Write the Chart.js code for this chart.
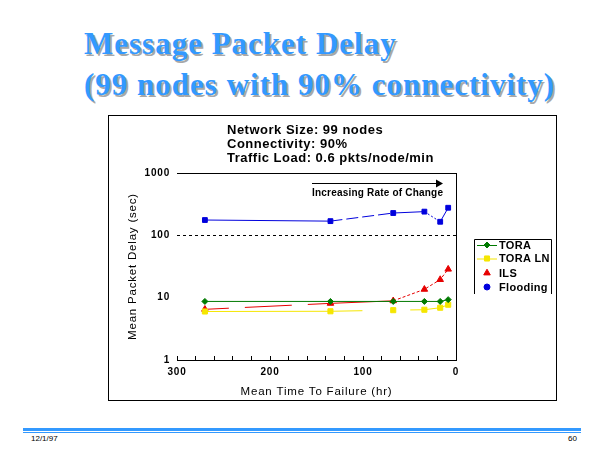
<!DOCTYPE html>
<html>
<head>
<meta charset="utf-8">
<script src="https://cdn.jsdelivr.net/npm/chart.js@4.4.1/dist/chart.umd.min.js"></script>
<style>
    html, body { margin: 0; padding: 0; background: #fff; }
    #page { position: relative; width: 600px; height: 450px; overflow: hidden; }
    .title {
        position: absolute; left: 84px; white-space: nowrap; line-height: 1;
        font: bold 31px "Liberation Serif", "Times New Roman", serif;
        letter-spacing: 1px; color: #3399ff; text-shadow: 2px 2px 0 #a8a8a8;
    }
    #box { position: absolute; left: 108px; top: 115px; width: 447px; height: 284px; border: 1px solid #000; }
    #chart { position: absolute; left: 0; top: 0; }
    .bar { position: absolute; left: 23px; width: 558px; background: #3399ff; }
    .foot { position: absolute; top: 434px; font: 8px "Liberation Sans", Arial, sans-serif; color: #000; }
</style>
</head>
<body>
<div id="page">
    <div class="title" style="top:26px">Message Packet Delay</div>
    <div class="title" style="top:67px">(99 nodes with 90% connectivity)</div>
    <div id="box"></div>
    <div class="bar" style="top:428px;height:3px"></div>
    <div class="bar" style="top:432px;height:1px"></div>
    <div class="foot" style="left:31px">12/1/97</div>
    <div class="foot" style="left:568px">60</div>
    <canvas id="chart" width="600" height="450"></canvas>
</div>
<script>
const mttf = [270, 135, 67.5, 34, 17, 8.4];
const toraDelay = [8.7, 8.7, 8.7, 8.7, 8.7, 9.3];
const toraLnDelay = [6.0, 6.05, 6.3, 6.4, 6.9, 7.7];
const ilsDelay = [6.5, 8.1, 8.9, 13.6, 19.5, 28.6];
const floodingDelay = [176, 169, 228, 240, 165, 277];
const seriesNames = ['TORA', 'TORA LN', 'ILS', 'Flooding'];
const xTickLabels = [300, 200, 100, 0];
const yTickValues = [1, 10, 100, 1000];
const noteLines = ['Network Size: 99 nodes', 'Connectivity: 90%', 'Traffic Load: 0.6 pkts/node/min'];
const arrowLabel = 'Increasing Rate of Change';

const COLORS = { tora: '#007a00', toraLn: '#f5e600', ils: '#e60000', flooding: '#0000dd' };

const toPoints = values => mttf.map((x, i) => ({ x, y: values[i] }));

const tickFont = { family: 'Liberation Sans, Arial, sans-serif', size: 10, weight: 'bold' };
const titleFont = { family: 'Liberation Sans, Arial, sans-serif', size: 11.5 };

// notes, arrow and boxed legend drawn on top of the plot
const overlay = {
    id: 'overlay',
    beforeDraw (chart) {
        chart.ctx.letterSpacing = '0.8px';
    },
    afterDraw (chart) {
        const ctx = chart.ctx;
        ctx.save();
        ctx.fillStyle = '#000';
        ctx.strokeStyle = '#000';
        ctx.textBaseline = 'alphabetic';
        ctx.textAlign = 'left';

        ctx.letterSpacing = '0.5px';
        ctx.font = 'bold 13px "Liberation Sans", Arial, sans-serif';
        noteLines.forEach((line, i) => ctx.fillText(line, 227, 134 + i * 14));

        ctx.letterSpacing = '0.2px';
        ctx.font = 'bold 10px "Liberation Sans", Arial, sans-serif';
        ctx.fillText(arrowLabel, 312, 196);
        ctx.lineWidth = 1;
        ctx.beginPath();
        ctx.moveTo(312, 183.5);
        ctx.lineTo(437, 183.5);
        ctx.stroke();
        ctx.beginPath();
        ctx.moveTo(436, 179.5);
        ctx.lineTo(443, 183.5);
        ctx.lineTo(436, 187.5);
        ctx.closePath();
        ctx.fill();

        // legend box (left, top, right sides)
        ctx.beginPath();
        ctx.moveTo(474.5, 294);
        ctx.lineTo(474.5, 239.5);
        ctx.lineTo(551.5, 239.5);
        ctx.lineTo(551.5, 294);
        ctx.stroke();

        const rows = [245, 258.5, 273, 287];
        const styles = [
            { line: true, pointStyle: 'rectRot', radius: 3 },
            { line: true, pointStyle: 'rect', radius: 3.6 },
            { line: false, pointStyle: 'triangle', radius: 3.8 },
            { line: false, pointStyle: 'circle', radius: 3 }
        ];
        ctx.letterSpacing = '0.3px';
        ctx.font = 'bold 11px "Liberation Sans", Arial, sans-serif';
        chart.data.datasets.forEach((ds, i) => {
            const y = rows[i];
            ctx.strokeStyle = ds.borderColor;
            ctx.fillStyle = ds.borderColor;
            if (styles[i].line) {
                ctx.lineWidth = 1;
                ctx.beginPath();
                ctx.moveTo(477, y + 0.5);
                ctx.lineTo(497, y + 0.5);
                ctx.stroke();
            }
            Chart.helpers.drawPoint(ctx, { pointStyle: styles[i].pointStyle, radius: styles[i].radius, rotation: 0, borderWidth: 1 }, 487, y);
            ctx.fillStyle = '#000';
            ctx.textBaseline = 'middle';
            ctx.fillText(ds.label, 499, y + 0.5);
        });
        ctx.restore();
    }
};

new Chart(document.getElementById('chart'), {
    type: 'line',
    data: {
        datasets: [
            {
                label: seriesNames[0],
                data: toPoints(toraDelay),
                borderColor: COLORS.tora,
                backgroundColor: COLORS.tora,
                borderWidth: 1,
                pointStyle: 'rectRot',
                pointRadius: 3
            },
            {
                label: seriesNames[1],
                data: toPoints(toraLnDelay),
                borderColor: COLORS.toraLn,
                backgroundColor: COLORS.toraLn,
                borderWidth: 1,
                pointStyle: 'rect',
                pointRadius: 3.6,
                segment: {
                    borderDash: c => c.p0DataIndex === 1 ? [32, 100] : c.p0DataIndex === 2 ? [14, 100] : undefined,
                    borderDashOffset: c => c.p0DataIndex === 2 ? 97 : undefined
                }
            },
            {
                label: seriesNames[2],
                data: toPoints(ilsDelay),
                borderColor: COLORS.ils,
                backgroundColor: COLORS.ils,
                borderWidth: 1,
                pointStyle: 'triangle',
                pointRadius: 3.8,
                segment: {
                    borderDash: c => c.p0DataIndex === 0 ? [24, 16, 47, 16] : c.p0DataIndex >= 2 ? [3, 2] : undefined
                }
            },
            {
                label: seriesNames[3],
                data: toPoints(floodingDelay),
                borderColor: COLORS.flooding,
                backgroundColor: COLORS.flooding,
                borderWidth: 1,
                pointStyle: 'rect',
                pointRadius: 3.4,
                segment: {
                    borderDash: c => c.p0DataIndex === 1 ? [12, 4] : c.p0DataIndex === 3 ? [2, 2] : undefined
                }
            }
        ]
    },
    options: {
        responsive: false,
        animation: false,
        layout: { padding: { left: 126, right: 144, top: 173, bottom: 51 } },
        plugins: {
            legend: { display: false },
            tooltip: { enabled: false }
        },
        scales: {
            x: {
                type: 'linear',
                min: 0,
                max: 300,
                reverse: true,
                ticks: {
                    stepSize: 20,
                    autoSkip: false,
                    maxRotation: 0,
                    padding: 10,
                    color: '#000',
                    font: tickFont,
                    callback: value => xTickLabels.includes(value) ? String(value) : ''
                },
                grid: {
                    drawOnChartArea: true,
                    color: c => c.tick && c.tick.value === 0 ? '#000' : 'rgba(0,0,0,0)',
                    tickColor: '#000',
                    tickLength: -4,
                    lineWidth: 1
                },
                border: { display: true, color: '#000', width: 1 },
                title: { display: true, text: 'Mean Time To Failure (hr)', color: '#000', font: titleFont, padding: 0 },
                afterFit: scale => {
                    scale.height = 39;
                    scale.paddingLeft = 0;
                    scale.paddingRight = 0;
                }
            },
            y: {
                type: 'logarithmic',
                min: 1,
                max: 1000,
                afterBuildTicks: scale => {
                    scale.ticks = yTickValues.map(v => ({ value: v }));
                },
                ticks: {
                    padding: 7,
                    color: '#000',
                    font: tickFont,
                    callback: value => String(value)
                },
                grid: {
                    drawTicks: false,
                    color: c => c.tick && (c.tick.value === 1000 || c.tick.value === 100) ? '#000' : 'rgba(0,0,0,0)'
                },
                border: {
                    display: false,
                    dash: c => c.tick && c.tick.value === 100 ? [3, 3] : []
                },
                title: { display: true, text: 'Mean Packet Delay (sec)', color: '#000', font: titleFont, padding: 0 },
                afterFit: scale => {
                    scale.width = 51;
                    scale.paddingTop = 0;
                    scale.paddingBottom = 0;
                }
            }
        }
    },
    plugins: [overlay]
});
</script>
</body>
</html>
